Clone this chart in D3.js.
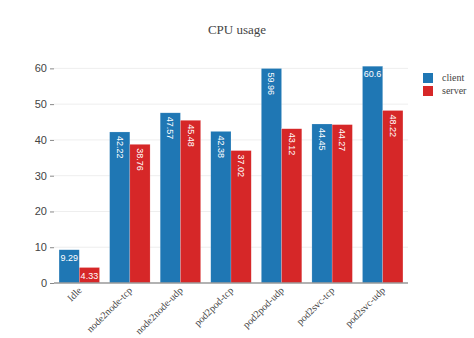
<!DOCTYPE html>
<meta charset="utf-8">
<head>
    <script src="https://d3js.org/d3.v7.min.js"></script>
    <style>
        body { margin: 0; background: #fff; }
        text { font-family: 'Liberation Serif', serif; }
        .num { font-family: 'Liberation Sans', 'Open Sans', sans-serif; }
    </style>
</head>
<body>
<div id="my_dataviz"></div>
<script>
    // chart data
    var categories = ["Idle", "node2node-tcp", "node2node-udp", "pod2pod-tcp", "pod2pod-udp", "pod2svc-tcp", "pod2svc-udp"];
    var seriesNames = ["client", "server"];
    var clientValues = [9.29, 42.22, 47.57, 42.38, 59.96, 44.45, 60.6];
    var serverValues = [4.33, 38.76, 45.48, 37.02, 43.12, 44.27, 48.22];
    var yTicks = [0, 10, 20, 30, 40, 50, 60];

    var colors = {client: "#1f77b4", server: "#d62728"};

    var W = 474, H = 338;
    var margin = {top: 63, right: 66, bottom: 55, left: 54},
        width = W - margin.left - margin.right,
        height = H - margin.top - margin.bottom;

    var svg = d3.select("#my_dataviz")
        .append("svg")
        .attr("width", W)
        .attr("height", H);

    // title
    svg.append("text")
        .attr("x", W / 2)
        .attr("y", 34)
        .attr("text-anchor", "middle")
        .style("font-size", "13px")
        .style("fill", "#444")
        .text("CPU usage");

    var g = svg.append("g")
        .attr("transform", "translate(" + margin.left + "," + margin.top + ")");

    var x = d3.scaleBand()
        .domain(categories)
        .range([0, width])
        .paddingInner(0.2)
        .paddingOuter(0.1);

    var xs = d3.scaleBand()
        .domain(seriesNames)
        .range([0, x.bandwidth()]);

    var y = d3.scaleLinear()
        .domain([0, 61.5])
        .range([height, 0]);

    // gridlines
    g.selectAll(".grid")
        .data(yTicks.slice(1))
        .enter().append("line")
        .attr("x1", 0).attr("x2", width)
        .attr("y1", d => y(d)).attr("y2", d => y(d))
        .attr("stroke", "#eee");

    // y axis
    var yAxis = g.append("g")
        .call(d3.axisLeft(y).tickValues(yTicks).tickSize(4).tickPadding(3));
    yAxis.select(".domain").remove();
    yAxis.selectAll("line").attr("stroke", "#888");
    yAxis.selectAll("text").attr("class", "num").style("font-size", "11px").style("fill", "#444");

    var data = categories.map((c, i) => ({cat: c, client: clientValues[i], server: serverValues[i]}));

    var groups = g.selectAll(".grp")
        .data(data)
        .enter().append("g")
        .attr("transform", d => "translate(" + x(d.cat) + ",0)");

    var bars = groups.selectAll("g.bar")
        .data(d => seriesNames.map(k => ({key: k, value: d[k]})))
        .enter().append("g")
        .attr("class", "bar");

    bars.append("rect")
        .attr("x", d => xs(d.key))
        .attr("y", d => y(d.value))
        .attr("width", xs.bandwidth())
        .attr("height", d => height - y(d.value))
        .attr("fill", d => colors[d.key])
        .attr("stroke", "rgba(255,255,255,0.35)")
        .attr("stroke-width", 0.5);

    // value labels inside bars, rotated when too wide
    bars.append("text")
        .attr("class", "num")
        .style("font-size", "9px")
        .style("fill", "#fff")
        .text(d => d.value)
        .each(function(d) {
            var t = d3.select(this);
            var w = this.getComputedTextLength();
            var cx = xs(d.key) + xs.bandwidth() / 2;
            var top = y(d.value);
            if (w <= xs.bandwidth() - 1) {
                t.attr("text-anchor", "middle")
                 .attr("x", cx).attr("y", top + 11);
            } else {
                t.attr("text-anchor", "start")
                 .attr("transform", "translate(" + (cx - 3) + "," + (top + 4) + ") rotate(90)");
            }
        });

    // x axis
    g.append("line")
        .attr("x1", 0).attr("x2", width)
        .attr("y1", height).attr("y2", height)
        .attr("stroke", "#999").attr("stroke-width", 1.5);

    g.selectAll(".xlab")
        .data(categories)
        .enter().append("text")
        .attr("text-anchor", "end")
        .style("font-size", "10px")
        .style("fill", "#444")
        .attr("transform", d => "translate(" + (x(d) + x.bandwidth() / 2 + 3) + "," + (height + 8) + ") rotate(-45)")
        .text(d => d);

    // legend
    var legend = svg.append("g")
        .attr("transform", "translate(423,73)");
    seriesNames.forEach(function(k, i) {
        legend.append("rect")
            .attr("x", 0).attr("y", i * 13)
            .attr("width", 10).attr("height", 10)
            .attr("fill", colors[k]);
        legend.append("text")
            .attr("x", 19).attr("y", i * 13 + 8)
            .style("font-size", "10px")
            .style("fill", "#444")
            .text(k);
    });
</script>
</body>
